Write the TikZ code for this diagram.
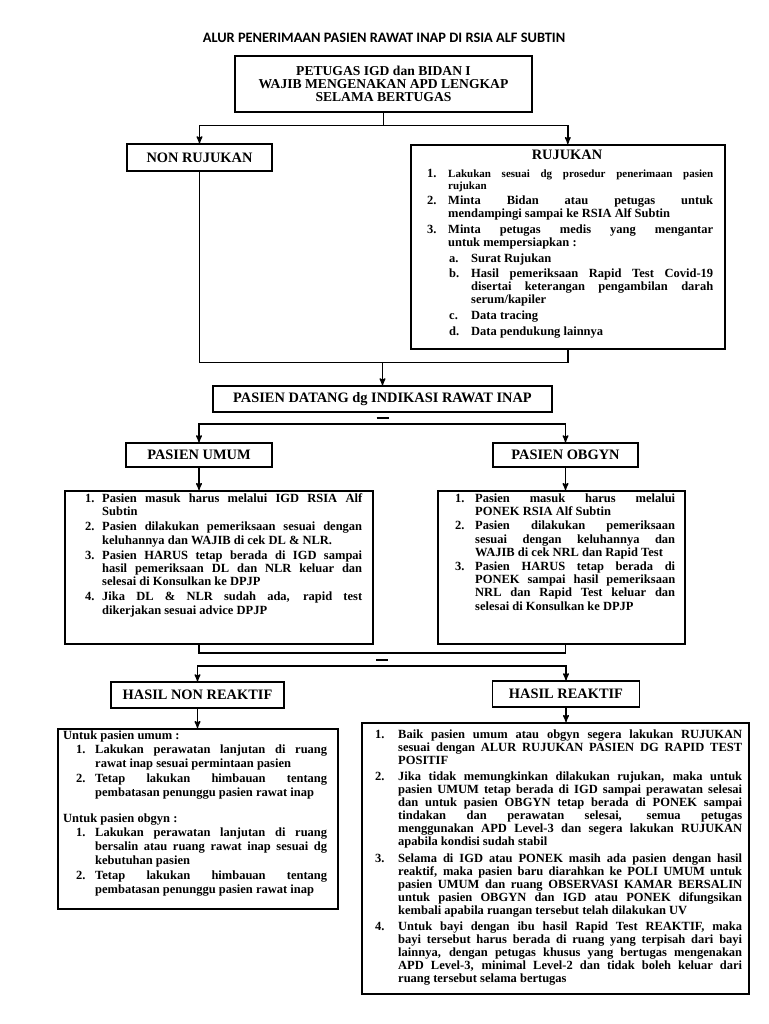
\documentclass[tikz,border=0pt]{standalone}
\usepackage{fontspec}
\setmainfont{Liberation Serif}
\newfontfamily\titlefont{Carlito}
\usepackage{enumitem}
\usetikzlibrary{arrows,positioning,calc}
\setlength{\parindent}{0pt}

\newcommand\hdfont{\bfseries\fontsize{14.4}{13.5}\selectfont}
\newcommand\lsfont{\bfseries\fontsize{12.5}{13.2}\selectfont}
\setlist[enumerate]{nosep, align=left, labelsep=*, labelwidth=14pt}
\setlist[enumerate,1]{label=\arabic*.}
\setlist[enumerate,2]{label=\alph*.}

\tikzset{
  head/.style={draw, line width=1.6pt, minimum height=26pt, inner sep=1pt, font=\hdfont},
  frame/.style={draw, line width=1.6pt, anchor=north west, inner sep=0pt},
  lstext/.style={anchor=north west, inner sep=0pt, align=justify, font=\lsfont},
  line/.style={line width=1.4pt},
}

\begin{document}
\begin{tikzpicture}[x=1pt,y=1pt,>=stealth']
    \useasboundingbox (0,0) rectangle (768,-1024);

    \node[font=\titlefont\bfseries\fontsize{14.4}{14}\selectfont] (title) at (384,-38)
      {ALUR PENERIMAAN PASIEN RAWAT INAP DI RSIA ALF SUBTIN};

    % petugas
    \node[head, align=center, minimum width=297pt, minimum height=56pt,
          font=\bfseries\fontsize{13.6}{13}\selectfont] (top) at (383.5,-84)
      {PETUGAS IGD dan BIDAN I\\ WAJIB MENGENAKAN APD LENGKAP\\ SELAMA BERTUGAS};

    % rujukan / non rujukan
    \node[head, minimum width=145pt, minimum height=27pt] (nonruj) at (199.5,-157.5) {NON RUJUKAN};
    \node[frame, minimum width=314pt, minimum height=204pt] (ruj) at (410,-144) {};
    \node[font=\hdfont] (rujtitle) at (567,-155) {RUJUKAN};
    \node[lstext, text width=286pt, font=\bfseries\fontsize{12.5}{12.8}\selectfont] (rujtext) at (427,-166) {
      \begin{enumerate}[leftmargin=21pt, itemsep=3pt]
        \item {\fontsize{11}{11.5}\selectfont Lakukan sesuai dg prosedur penerimaan pasien\linebreak rujukan\par}
        \item Minta Bidan atau petugas untuk\linebreak mendampingi sampai ke RSIA Alf Subtin
        \item Minta petugas medis yang mengantar\linebreak untuk mempersiapkan :
        \begin{enumerate}[leftmargin=23pt, labelindent=1pt, itemsep=3pt, topsep=3pt]
          \item Surat Rujukan
          \item Hasil pemeriksaan Rapid Test Covid-19\linebreak disertai keterangan pengambilan darah\linebreak serum/kapiler
          \item Data tracing
          \item Data pendukung lainnya
        \end{enumerate}
      \end{enumerate}};

    \node[head, minimum width=339pt] (datang) at (382.5,-399) {PASIEN DATANG dg INDIKASI RAWAT INAP};

    % umum / obgyn
    \node[head, minimum width=146pt, minimum height=24pt] (umum) at (199,-455) {PASIEN UMUM};
    \node[head, minimum width=145pt, minimum height=24pt] (obgyn) at (565.5,-455) {PASIEN OBGYN};

    \node[frame, minimum width=308pt, minimum height=153pt] (umumlist) at (64,-490) {};
    \node[lstext, text width=277pt] (umumtext) at (85,-489) {
      \begin{enumerate}[leftmargin=17pt, itemsep=2pt]
        \item Pasien masuk harus melalui IGD RSIA Alf\linebreak Subtin
        \item Pasien dilakukan pemeriksaan sesuai dengan\linebreak keluhannya dan WAJIB di cek DL \& NLR.
        \item Pasien HARUS tetap berada di IGD sampai\linebreak hasil pemeriksaan DL dan NLR keluar dan\linebreak selesai di Konsulkan ke DPJP
        \item Jika DL \& NLR sudah ada, rapid test\linebreak dikerjakan sesuai advice DPJP
      \end{enumerate}};

    \node[frame, minimum width=247pt, minimum height=153pt] (obgynlist) at (437,-490) {};
    \node[lstext, text width=220pt] (obgyntext) at (455,-489) {
      \begin{enumerate}[leftmargin=20pt, itemsep=1pt]
        \item Pasien masuk harus melalui\linebreak PONEK RSIA Alf Subtin
        \item Pasien dilakukan pemeriksaan\linebreak sesuai dengan keluhannya dan\linebreak WAJIB di cek NRL dan Rapid Test
        \item Pasien HARUS tetap berada di\linebreak PONEK sampai hasil pemeriksaan\linebreak NRL dan Rapid Test keluar dan\linebreak selesai di Konsulkan ke DPJP
      \end{enumerate}};

    % hasil
    \node[head, minimum width=173pt] (nonreak) at (197.5,-695) {HASIL NON REAKTIF};
    \node[head, minimum width=147pt] (reak) at (566,-694) {HASIL REAKTIF};

    \node[frame, minimum width=280pt, minimum height=180pt] (nonreaklist) at (57,-728) {};
    \node[lstext, text width=264pt, font=\bfseries\fontsize{12.5}{14}\selectfont] (nonreaktext) at (63,-731) {
      Untuk pasien umum :
      \begin{enumerate}[leftmargin=32pt, labelindent=13pt, itemsep=1pt]
        \item Lakukan perawatan lanjutan di ruang\linebreak rawat inap sesuai permintaan pasien
        \item Tetap lakukan himbauan tentang\linebreak pembatasan penunggu pasien rawat inap
      \end{enumerate}
      \vspace{12pt}
      Untuk pasien obgyn :
      \begin{enumerate}[leftmargin=32pt, labelindent=13pt, itemsep=1pt]
        \item Lakukan perawatan lanjutan di ruang\linebreak bersalin atau ruang rawat inap sesuai dg\linebreak kebutuhan pasien
        \item Tetap lakukan himbauan tentang\linebreak pembatasan penunggu pasien rawat inap
      \end{enumerate}};

    \node[frame, minimum width=387pt, minimum height=271pt] (reaklist) at (361,-722) {};
    \node[lstext, text width=367pt, font=\bfseries\fontsize{12.5}{13}\selectfont] (reaktext) at (375,-725) {
      \begin{enumerate}[leftmargin=23pt, itemsep=3.5pt]
        \item Baik pasien umum atau obgyn segera lakukan RUJUKAN\linebreak sesuai dengan ALUR RUJUKAN PASIEN DG RAPID TEST\linebreak POSITIF
        \item Jika tidak memungkinkan dilakukan rujukan, maka untuk\linebreak pasien UMUM tetap berada di IGD sampai perawatan selesai\linebreak dan untuk pasien OBGYN tetap berada di PONEK sampai\linebreak tindakan dan perawatan selesai, semua petugas\linebreak menggunakan APD Level-3 dan segera lakukan RUJUKAN\linebreak apabila kondisi sudah stabil
        \item Selama di IGD atau PONEK masih ada pasien dengan hasil\linebreak reaktif, maka pasien baru diarahkan ke POLI UMUM untuk\linebreak pasien UMUM dan ruang OBSERVASI KAMAR BERSALIN\linebreak untuk pasien OBGYN dan IGD atau PONEK difungsikan\linebreak kembali apabila ruangan tersebut telah dilakukan UV
        \item Untuk bayi dengan ibu hasil Rapid Test REAKTIF, maka\linebreak bayi tersebut harus berada di ruang yang terpisah dari bayi\linebreak lainnya, dengan petugas khusus yang bertugas mengenakan\linebreak APD Level-3, minimal Level-2 dan tidak boleh keluar dari\linebreak ruang tersebut selama bertugas
      \end{enumerate}};

    % connectors
    \draw[line] (top.south) -- ++(0,-13) coordinate (s1);
    \draw[line,->] (s1) -| (nonruj.north);
    \draw[line,->] (s1) -| (ruj.north);

    \path (datang.north) ++(0,23) coordinate (j1);
    \draw[line] (nonruj.south) |- (j1) -| (ruj.south);
    \draw[line,->] (j1) -- (datang.north);

    \draw[line] ($(datang.south)+(-6,-5)$) -- ++(12,0);
    \path (datang.south) ++(0,-11) coordinate (s2);
    \draw[line,->] (s2) -| (umum.north);
    \draw[line,->] (s2) -| (obgyn.north);

    \draw[line,->] (umum.south) -- (umum.south |- umumlist.north);
    \draw[line,->] (obgyn.south) -- (obgyn.south |- obgynlist.north);

    \coordinate (j2) at (382,-653);
    \draw[line] (umum.south |- umumlist.south) |- (j2) -| (obgyn.south |- obgynlist.south);
    \draw[line] ($(j2)+(-6,-7)$) -- ++(12,0);
    \path (j2) ++(0,-13) coordinate (s3);
    \draw[line,->] (s3) -| (nonreak.north);
    \draw[line,->] (s3) -| (reak.north);

    \draw[line,->] (nonreak.south) -- (nonreak.south |- nonreaklist.north);
    \draw[line,->] (reak.south) -- (reak.south |- reaklist.north);
\end{tikzpicture}
\end{document}
